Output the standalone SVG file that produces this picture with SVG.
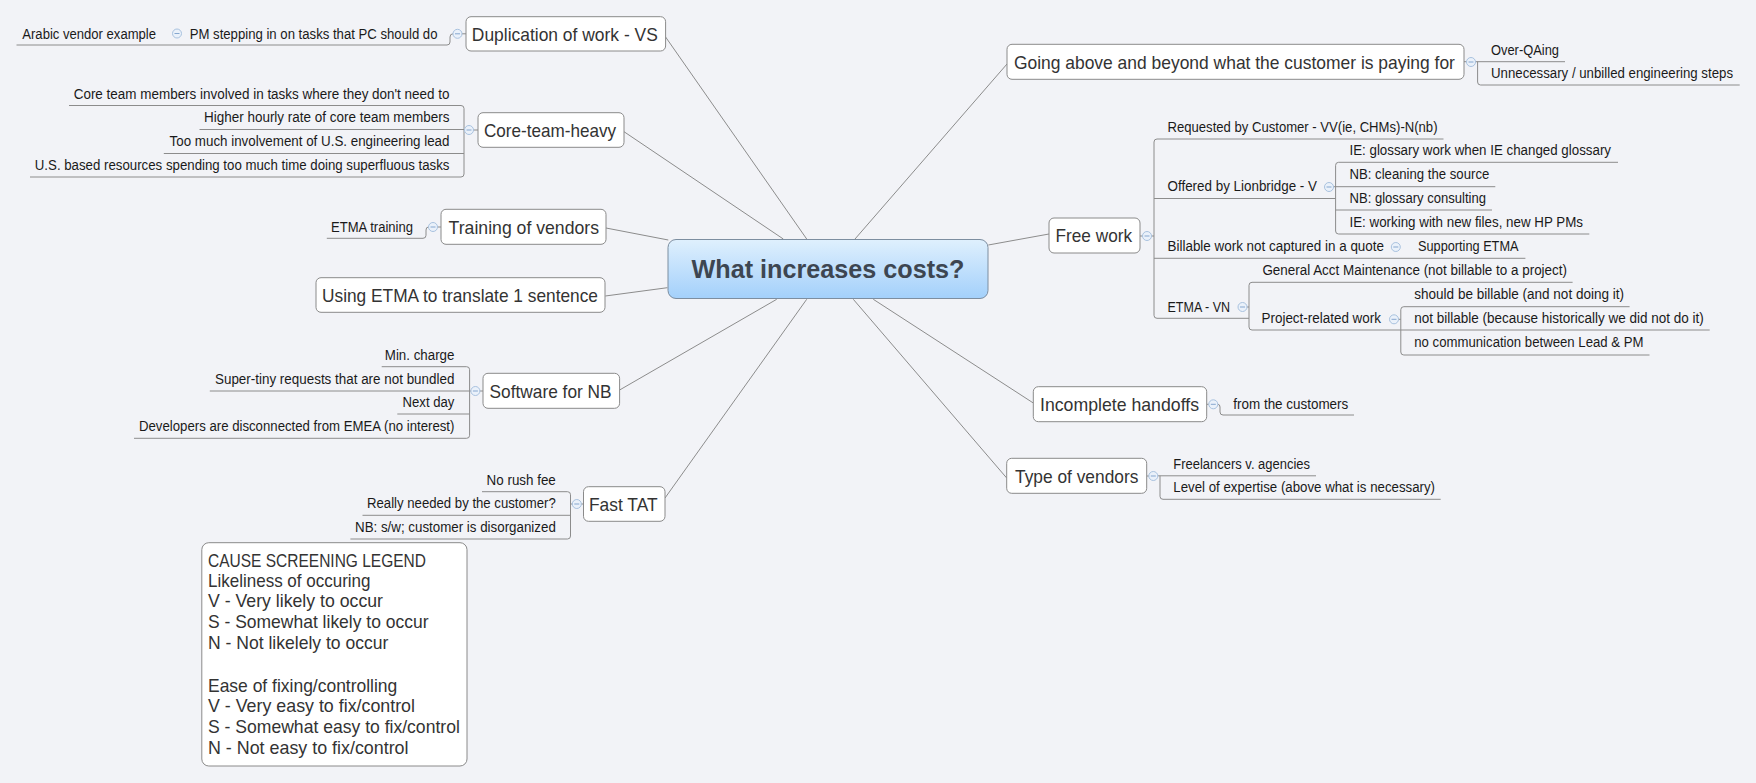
<svg xmlns="http://www.w3.org/2000/svg" width="1756" height="783" viewBox="0 0 1756 783">
<style>
.bg{fill:#f2f3f7}
.box{fill:#ffffff;stroke:#8a8a8a;stroke-width:1}
.mt{font-family:"Liberation Sans",Arial,sans-serif;font-size:19px;fill:#333333;text-anchor:middle}
.st{font-family:"Liberation Sans",Arial,sans-serif;font-size:14px;fill:#1a1a1a}
.end{text-anchor:end}
.lg{font-family:"Liberation Sans",Arial,sans-serif;font-size:18.5px;fill:#333333}
.ln{fill:none;stroke:#8c8c8c;stroke-width:1}
.cc{fill:#eaf1fa;stroke:#a9c2df;stroke-width:1}
.cm{stroke:#86a7cf;stroke-width:1}
</style>
<defs>
<linearGradient id="cg" x1="0" y1="0" x2="0" y2="1">
<stop offset="0" stop-color="#dff0fd"/>
<stop offset="1" stop-color="#a3d0fb"/>
</linearGradient>
<g id="col"><circle r="4.5" class="cc"/><line x1="-2.5" y1="0" x2="2.5" y2="0" class="cm"/></g>
</defs>
<rect class="bg" x="0" y="0" width="1756" height="783"/>

<g id="connectors">
<path class="ln" d="M806.7,239 L665.6,37"/>
<path class="ln" d="M783.3,239 L624,131.7"/>
<path class="ln" d="M668.3,240 L606,228"/>
<path class="ln" d="M667.4,287.7 L605.3,296"/>
<path class="ln" d="M776.7,299.3 L619.6,390"/>
<path class="ln" d="M806.7,299.3 L665,498"/>
<path class="ln" d="M855,239 L1007,64"/>
<path class="ln" d="M988.3,245 L1049,234"/>
<path class="ln" d="M873.3,299.3 L1033.3,403"/>
<path class="ln" d="M853.3,299.3 L1006.7,478"/>
<path class="ln" d="M466,33.8 H457.5"/>
<path class="ln" d="M453,33.8 Q450,33.8 450,37 L450,42 Q450,45 447,45 H16.5"/>
<path class="ln" d="M478,130 H469"/>
<path class="ln" d="M69,105.5 H461 Q464,105.5 464,108.5 V174 Q464,177 461,177 H30"/>
<path class="ln" d="M199.5,129.5 H469"/>
<path class="ln" d="M163.8,153.5 H464"/>
<path class="ln" d="M441,227 H433"/>
<path class="ln" d="M428.5,227 Q426,227 426,230 L426,235.3 Q426,238.3 423,238.3 H326.8"/>
<path class="ln" d="M483,391 H475.4"/>
<path class="ln" d="M381.7,366.7 H466.6 Q469.6,366.7 469.6,369.7 V435.3 Q469.6,438.3 466.6,438.3 H134"/>
<path class="ln" d="M209.8,391 H475"/>
<path class="ln" d="M397.3,414 H469.6"/>
<path class="ln" d="M583.5,504 H576.8"/>
<path class="ln" d="M482,491.7 H567.5 Q570.5,491.7 570.5,494.7 V536 Q570.5,539 567.5,539 H350.4"/>
<path class="ln" d="M362.5,515.3 H570.5"/>
<path class="ln" d="M570.5,504 H576"/>
<path class="ln" d="M1464,61.7 H1470"/>
<path class="ln" d="M1474.5,61.7 H1565"/>
<path class="ln" d="M1477.6,61.7 V82 Q1477.6,85 1480.6,85 H1739.7"/>
<path class="ln" d="M1140,236 H1147"/>
<path class="ln" d="M1443.5,139 H1157 Q1154,139 1154,142 V315.3 Q1154,318.3 1157,318.3 H1249"/>
<path class="ln" d="M1151.5,236 H1154"/>
<path class="ln" d="M1154,198.5 H1335.6"/>
<path class="ln" d="M1154,258.3 H1525.4"/>
<path class="ln" d="M1618,162.3 H1338.6 Q1335.6,162.3 1335.6,165.3 V231 Q1335.6,234 1338.6,234 H1589.3"/>
<path class="ln" d="M1333,186.7 H1495.3"/>
<path class="ln" d="M1335.6,210 H1492"/>
<path class="ln" d="M1572.6,282.3 H1252 Q1249,282.3 1249,285.3 V327 Q1249,330 1252,330 H1400.8"/>
<path class="ln" d="M1246.5,307 H1249"/>
<path class="ln" d="M1629.6,306.7 H1403.8 Q1400.8,306.7 1400.8,309.7 V352 Q1400.8,355 1403.8,355 H1649.5"/>
<path class="ln" d="M1400.8,330 H1709.7"/>
<path class="ln" d="M1398,319.3 H1400.8"/>
<path class="ln" d="M1206.7,404.3 H1213.3"/>
<path class="ln" d="M1217.8,404.3 Q1220,404.3 1220,407 L1220,412 Q1220,415 1223,415 H1354"/>
<path class="ln" d="M1146.7,476 H1153.3"/>
<path class="ln" d="M1157.8,475.8 H1316"/>
<path class="ln" d="M1160,475.8 V496.3 Q1160,499.3 1163,499.3 H1440.7"/>
</g>

<g id="central">
<rect x="668" y="239.5" width="320" height="59" rx="8" fill="url(#cg)" stroke="#7d8ea0" stroke-width="1"/>
<text x="828" y="278.3" text-anchor="middle" font-family="'Liberation Sans',Arial,sans-serif" font-size="26.5" font-weight="bold" fill="#3d4651" textLength="273" lengthAdjust="spacingAndGlyphs">What increases costs?</text>
</g>

<g id="duplication">
<rect class="box" x="466" y="16.7" width="199.6" height="34.3" rx="5"/>
<text class="mt" x="564.8" y="40.6" textLength="186" lengthAdjust="spacingAndGlyphs">Duplication of work - VS</text>
<use href="#col" x="457.5" y="33.8"/>
<text class="st end" x="437.5" y="38.5" textLength="247.8" lengthAdjust="spacingAndGlyphs">PM stepping in on tasks that PC should do</text>
<use href="#col" x="177" y="33.5"/>
<text class="st end" x="156" y="38.5" textLength="133.7" lengthAdjust="spacingAndGlyphs">Arabic vendor example</text>
</g>

<g id="core-team">
<rect class="box" x="478" y="112.7" width="146" height="34.6" rx="5"/>
<text class="mt" x="550" y="136.8" textLength="132" lengthAdjust="spacingAndGlyphs">Core-team-heavy</text>
<use href="#col" x="469" y="130"/>
<text class="st end" x="449.5" y="98.5" textLength="375.8" lengthAdjust="spacingAndGlyphs">Core team members involved in tasks where they don't need to</text>
<text class="st end" x="449.5" y="122.3" textLength="245.5" lengthAdjust="spacingAndGlyphs">Higher hourly rate of core team members</text>
<text class="st end" x="449.5" y="146.3" textLength="279.9" lengthAdjust="spacingAndGlyphs">Too much involvement of U.S. engineering lead</text>
<text class="st end" x="449.5" y="170" textLength="414.7" lengthAdjust="spacingAndGlyphs">U.S. based resources spending too much time doing superfluous tasks</text>
</g>

<g id="training">
<rect class="box" x="441" y="209.3" width="165" height="35" rx="5"/>
<text class="mt" x="523.8" y="233.6" textLength="150.4" lengthAdjust="spacingAndGlyphs">Training of vendors</text>
<use href="#col" x="433" y="227"/>
<text class="st end" x="413" y="231.7" textLength="82" lengthAdjust="spacingAndGlyphs">ETMA training</text>
</g>

<g id="using-etma">
<rect class="box" x="316" y="277.7" width="289" height="34.6" rx="5"/>
<text class="mt" x="460" y="301.8" textLength="276" lengthAdjust="spacingAndGlyphs">Using ETMA to translate 1 sentence</text>
</g>

<g id="software">
<rect class="box" x="483" y="373.3" width="136.6" height="35" rx="5"/>
<text class="mt" x="550.6" y="397.6" textLength="122" lengthAdjust="spacingAndGlyphs">Software for NB</text>
<use href="#col" x="475.4" y="391"/>
<text class="st end" x="454.4" y="359.5" textLength="69.6" lengthAdjust="spacingAndGlyphs">Min. charge</text>
<text class="st end" x="454.4" y="383.5" textLength="239.4" lengthAdjust="spacingAndGlyphs">Super-tiny requests that are not bundled</text>
<text class="st end" x="454.4" y="406.7" textLength="51.8" lengthAdjust="spacingAndGlyphs">Next day</text>
<text class="st end" x="454.4" y="431.3" textLength="315.4" lengthAdjust="spacingAndGlyphs">Developers are disconnected from EMEA (no interest)</text>
</g>

<g id="fast-tat">
<rect class="box" x="583.5" y="486.7" width="81.5" height="34.6" rx="5"/>
<text class="mt" x="623.3" y="510.8" textLength="68.6" lengthAdjust="spacingAndGlyphs">Fast TAT</text>
<use href="#col" x="576.8" y="504"/>
<text class="st end" x="555.8" y="485" textLength="69.2" lengthAdjust="spacingAndGlyphs">No rush fee</text>
<text class="st end" x="555.8" y="508" textLength="188.8" lengthAdjust="spacingAndGlyphs">Really needed by the customer?</text>
<text class="st end" x="555.8" y="531.7" textLength="200.8" lengthAdjust="spacingAndGlyphs">NB: s/w; customer is disorganized</text>
</g>

<g id="legend">
<rect class="box" x="201.8" y="542.7" width="265.2" height="223.3" rx="7"/>
<text class="lg" x="208" y="566.7" textLength="218" lengthAdjust="spacingAndGlyphs">CAUSE SCREENING LEGEND</text>
<text class="lg" x="208" y="586.7" textLength="162.5" lengthAdjust="spacingAndGlyphs">Likeliness of occuring</text>
<text class="lg" x="208" y="607.3" textLength="175" lengthAdjust="spacingAndGlyphs">V - Very likely to occur</text>
<text class="lg" x="208" y="628.3" textLength="220.5" lengthAdjust="spacingAndGlyphs">S - Somewhat likely to occur</text>
<text class="lg" x="208" y="649.3" textLength="180.4" lengthAdjust="spacingAndGlyphs">N - Not likelely to occur</text>
<text class="lg" x="208" y="691.7" textLength="189.3" lengthAdjust="spacingAndGlyphs">Ease of fixing/controlling</text>
<text class="lg" x="208" y="712.3" textLength="207" lengthAdjust="spacingAndGlyphs">V - Very easy to fix/control</text>
<text class="lg" x="208" y="733.3" textLength="251.8" lengthAdjust="spacingAndGlyphs">S - Somewhat easy to fix/control</text>
<text class="lg" x="208" y="754" textLength="200.5" lengthAdjust="spacingAndGlyphs">N - Not easy to fix/control</text>
</g>

<g id="going-above">
<rect class="box" x="1007" y="44.3" width="457" height="35" rx="5"/>
<text class="mt" x="1234.4" y="68.6" textLength="441" lengthAdjust="spacingAndGlyphs">Going above and beyond what the customer is paying for</text>
<use href="#col" x="1471" y="62"/>
<text class="st" x="1491" y="54.8" textLength="68" lengthAdjust="spacingAndGlyphs">Over-QAing</text>
<text class="st" x="1491" y="77.8" textLength="242" lengthAdjust="spacingAndGlyphs">Unnecessary / unbilled engineering steps</text>
</g>

<g id="free-work">
<rect class="box" x="1049" y="218" width="91" height="35" rx="5"/>
<text class="mt" x="1093.8" y="242.3" textLength="76.5" lengthAdjust="spacingAndGlyphs">Free work</text>
<use href="#col" x="1147" y="236"/>
<text class="st" x="1167.5" y="131.8" textLength="270" lengthAdjust="spacingAndGlyphs">Requested by Customer - VV(ie, CHMs)-N(nb)</text>
<text class="st" x="1167.5" y="191.2" textLength="149.5" lengthAdjust="spacingAndGlyphs">Offered by Lionbridge - V</text>
<use href="#col" x="1329" y="187"/>
<text class="st" x="1349.5" y="155.2" textLength="261.5" lengthAdjust="spacingAndGlyphs">IE: glossary work when IE changed glossary</text>
<text class="st" x="1349.5" y="179" textLength="139.8" lengthAdjust="spacingAndGlyphs">NB: cleaning the source</text>
<text class="st" x="1349.5" y="202.8" textLength="136.5" lengthAdjust="spacingAndGlyphs">NB: glossary consulting</text>
<text class="st" x="1349.5" y="226.5" textLength="233.5" lengthAdjust="spacingAndGlyphs">IE: working with new files, new HP PMs</text>
<text class="st" x="1167.5" y="250.8" textLength="216.5" lengthAdjust="spacingAndGlyphs">Billable work not captured in a quote</text>
<use href="#col" x="1395.8" y="247"/>
<text class="st" x="1418" y="250.8" textLength="100.5" lengthAdjust="spacingAndGlyphs">Supporting ETMA</text>
<text class="st" x="1167.5" y="311.5" textLength="62.5" lengthAdjust="spacingAndGlyphs">ETMA - VN</text>
<use href="#col" x="1242.5" y="307"/>
<text class="st" x="1262.4" y="275" textLength="304.6" lengthAdjust="spacingAndGlyphs">General Acct Maintenance (not billable to a project)</text>
<text class="st" x="1261.5" y="322.7" textLength="119.5" lengthAdjust="spacingAndGlyphs">Project-related work</text>
<use href="#col" x="1394" y="319.3"/>
<text class="st" x="1414.3" y="298.8" textLength="209.7" lengthAdjust="spacingAndGlyphs">should be billable (and not doing it)</text>
<text class="st" x="1414.3" y="322.7" textLength="289.4" lengthAdjust="spacingAndGlyphs">not billable (because historically we did not do it)</text>
<text class="st" x="1414.3" y="347" textLength="229.2" lengthAdjust="spacingAndGlyphs">no communication between Lead &amp; PM</text>
</g>

<g id="incomplete-handoffs">
<rect class="box" x="1033.3" y="386.7" width="173.4" height="35" rx="5"/>
<text class="mt" x="1119.5" y="411" textLength="159" lengthAdjust="spacingAndGlyphs">Incomplete handoffs</text>
<use href="#col" x="1213.3" y="404.3"/>
<text class="st" x="1233.3" y="409.3" textLength="115" lengthAdjust="spacingAndGlyphs">from the customers</text>
</g>

<g id="type-of-vendors">
<rect class="box" x="1006.7" y="458.3" width="140" height="35" rx="5"/>
<text class="mt" x="1076.7" y="482.6" textLength="123.3" lengthAdjust="spacingAndGlyphs">Type of vendors</text>
<use href="#col" x="1153.3" y="476"/>
<text class="st" x="1173.3" y="468.5" textLength="136.7" lengthAdjust="spacingAndGlyphs">Freelancers v. agencies</text>
<text class="st" x="1173.3" y="492" textLength="261.7" lengthAdjust="spacingAndGlyphs">Level of expertise (above what is necessary)</text>
</g>
</svg>
